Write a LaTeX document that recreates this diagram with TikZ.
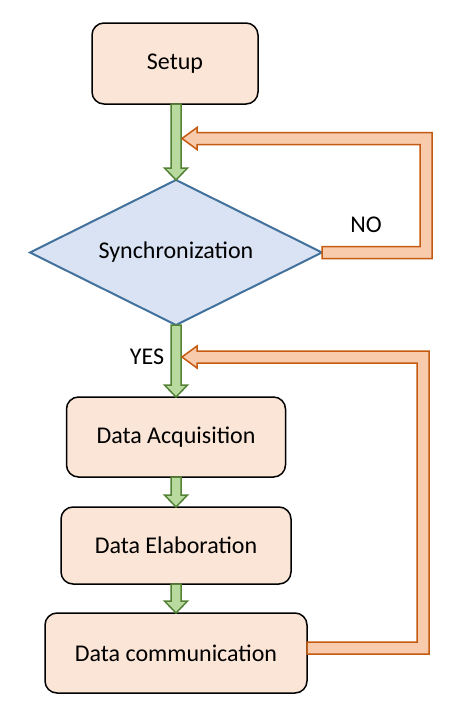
\documentclass[tikz,border=0pt]{standalone}
\usepackage{fontspec}
\setmainfont{Carlito}
\usetikzlibrary{calc,shapes.geometric}
\definecolor{BoxFill}{HTML}{FBE5D6}
\definecolor{DecFill}{HTML}{DAE3F3}
\definecolor{DecLine}{HTML}{41719C}
\definecolor{GoFill}{HTML}{B9DA9F}
\definecolor{GoLine}{HTML}{548235}
\definecolor{BackFill}{HTML}{F8CBAD}
\definecolor{BackLine}{HTML}{C55A11}
\tikzstyle{process_box}=[rectangle,
        minimum height=80pt,
        draw=black,
        line width=1.5pt,
        fill=BoxFill,
        outer sep=0pt,
        rounded corners=12pt, ]
\tikzstyle{decision}=[diamond,
        aspect=2,
        minimum width=292pt,
        minimum height=145pt,
        inner sep=0pt,
        outer sep=0pt,
        draw=DecLine,
        line width=2pt,
        fill=DecFill, ]
\tikzstyle{flow_arrow}=[draw=GoLine, fill=GoFill, line width=1.5pt, line join=miter]
\tikzstyle{loop_arrow}=[draw=BackLine, fill=BackFill, line width=1.5pt, line join=miter]

\begin{document}
\begin{tikzpicture}[font=\fontsize{24pt}{28pt}\selectfont]
    \useasboundingbox (0,0) rectangle (474pt,-721pt);

    \node at (175pt, -63.5pt) (setup) [process_box, minimum width=166pt, minimum height=81pt] {Setup};
    \node at (176pt, -252.5pt) (sync) [decision] {Synchronization};
    \node at (176pt, -437pt) (acq) [process_box, minimum width=219pt] {Data Acquisition};
    \node at (176pt, -545.5pt) (elab) [process_box, minimum width=230pt, minimum height=77pt] {Data Elaboration};
    \node at (176pt, -653pt) (comm) [process_box, minimum width=262pt] {Data communication};

    % green arrows down the chain
    \foreach \a/\b in {setup/sync, sync/acq, acq/elab, elab/comm} {
        \draw[flow_arrow] let \p1=(\a.south), \p2=(\b.north) in
            (176pt-5pt,\y1) -- (176pt-5pt,\y2+12pt) -- (176pt-11.5pt,\y2+12pt) -- (176pt,\y2)
            -- (176pt+11.5pt,\y2+12pt) -- (176pt+5pt,\y2+12pt) -- (176pt+5pt,\y1) -- cycle;
    }

    % feedback arrows
    \coordinate (no_tip) at (182pt, -138.5pt);
    \coordinate (yes_tip) at (182pt, -357pt);
    \coordinate (comm_out) at ($(comm.east)+(0,5pt)$);

    \draw[loop_arrow] let \p1=(sync.east), \p2=(no_tip) in
        (\x1,\y1+6pt) -- (420pt,\y1+6pt) -- (420pt,\y2-6pt) -- (\x2+15pt,\y2-6pt) -- (\x2+15pt,\y2-11pt)
        -- (\x2,\y2) -- (\x2+15pt,\y2+11pt) -- (\x2+15pt,\y2+6pt) -- (432pt,\y2+6pt) -- (432pt,\y1-6pt)
        -- (\x1,\y1-6pt) -- cycle;
    \draw[loop_arrow] let \p1=(comm_out), \p2=(yes_tip) in
        (\x1,\y1+6pt) -- (417pt,\y1+6pt) -- (417pt,\y2-6pt) -- (\x2+15pt,\y2-6pt) -- (\x2+15pt,\y2-11pt)
        -- (\x2,\y2) -- (\x2+15pt,\y2+11pt) -- (\x2+15pt,\y2+6pt) -- (429pt,\y2+6pt) -- (429pt,\y1-6pt)
        -- (\x1,\y1-6pt) -- cycle;

    \node at (366pt, -225pt) (no_label) {NO};
    \node at (147pt, -357pt) (yes_label) {YES};

\end{tikzpicture}
\end{document}
